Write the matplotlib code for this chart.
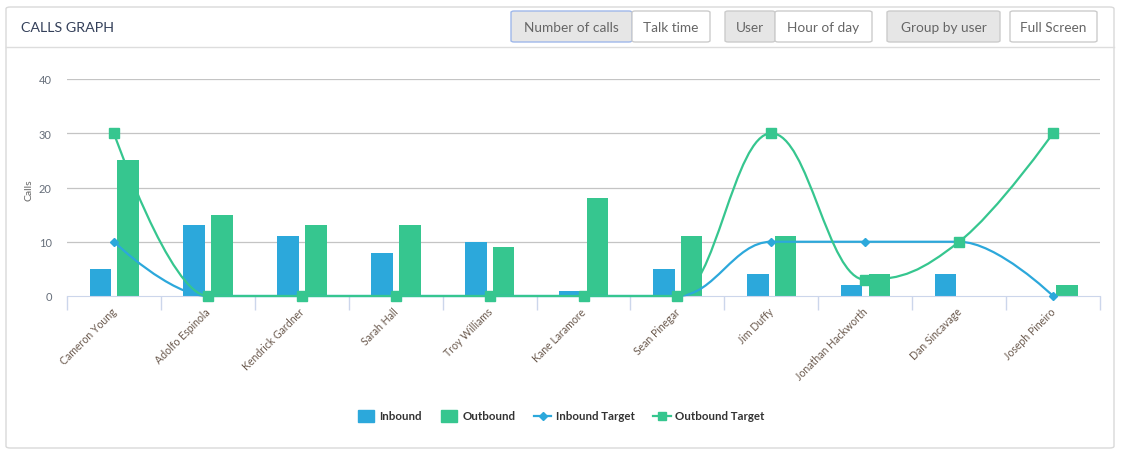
import matplotlib
matplotlib.use('Agg')
import matplotlib.pyplot as plt
from matplotlib.patches import FancyBboxPatch, Rectangle
from matplotlib.path import Path
from matplotlib.patches import PathPatch
from matplotlib.lines import Line2D

plt.rcParams['font.family'] = ['Lato', 'DejaVu Sans']

users = ['Cameron Young', 'Adolfo Espinola', 'Kendrick Gardner', 'Sarah Hall', 'Troy Williams',
         'Kane Laramore', 'Sean Pinegar', 'Jim Duffy', 'Jonathan Hackworth', 'Dan Sincavage',
         'Joseph Pineiro']
inbound = [5, 13, 11, 8, 10, 1, 5, 4, 2, 4, 0]
outbound = [25, 15, 13, 13, 9, 18, 11, 11, 4, 0, 2]
inbound_target = [10, 0, 0, 0, 0, 0, 0, 10, 10, 10, 0]
outbound_target = [30, 0, 0, 0, 0, 0, 0, 30, 3, 10, 30]
y_ticks = [0, 10, 20, 30, 40]

BLUE = '#2ca8db'
GREEN = '#36c68f'
W, H = 1124, 456


def fx(x):
    return x / W


def fy(y):
    return 1 - y / H


def spline_path(xs, ys):
    # highcharts style spline (smoothing 1.5)
    sm = 1.5
    den = sm + 1
    n = len(xs)
    right = [None] * n
    left = [None] * n
    for i in range(1, n - 1):
        px, py = xs[i], ys[i]
        lx, ly = xs[i - 1], ys[i - 1]
        nx, ny = xs[i + 1], ys[i + 1]
        lcx = (sm * px + lx) / den
        lcy = (sm * py + ly) / den
        rcx = (sm * px + nx) / den
        rcy = (sm * py + ny) / den
        corr = 0
        if rcx != lcx:
            corr = (rcy - lcy) * (rcx - px) / (rcx - lcx) + py - rcy
        lcy += corr
        rcy += corr
        if lcy > ly and lcy > py:
            lcy = max(ly, py)
            rcy = 2 * py - lcy
        elif lcy < ly and lcy < py:
            lcy = min(ly, py)
            rcy = 2 * py - lcy
        if rcy > ny and rcy > py:
            rcy = max(ny, py)
            lcy = 2 * py - rcy
        elif rcy < ny and rcy < py:
            rcy = min(ny, py)
            lcy = 2 * py - rcy
        left[i] = (lcx, lcy)
        right[i] = (rcx, rcy)
    verts = [(xs[0], ys[0])]
    codes = [Path.MOVETO]
    for i in range(1, n):
        c1 = right[i - 1] if right[i - 1] else (xs[i - 1], ys[i - 1])
        c2 = left[i] if left[i] else (xs[i], ys[i])
        verts += [c1, c2, (xs[i], ys[i])]
        codes += [Path.CURVE4] * 3
    return Path(verts, codes)


fig = plt.figure(figsize=(W / 100, H / 100), dpi=100)

# panel frame and header
fig.patches.append(FancyBboxPatch((fx(6), fy(449)), fx(1108), 441 / H, boxstyle='round,pad=0,rounding_size=0.004',
                                  transform=fig.transFigure, fc='white', ec='#d9d9d9', lw=1, zorder=-5))
fig.lines.append(Line2D([fx(6), fx(1114)], [fy(48), fy(48)], transform=fig.transFigure, color='#dddddd', lw=1))
fig.text(fx(21), fy(28), 'CALLS GRAPH', fontsize=10.3, color='#34405a', va='center', ha='left')

buttons = [(511, 632, 'Number of calls', '#e6e6e6'), (632, 710, 'Talk time', 'white'),
           (725, 775, 'User', '#e6e6e6'), (775, 872, 'Hour of day', 'white'),
           (887, 1000, 'Group by user', '#e6e6e6'), (1010, 1097, 'Full Screen', 'white')]
for x0, x1, lab, bg in buttons:
    ec = '#9fb8ea' if lab == 'Number of calls' else '#cccccc'
    fig.patches.append(FancyBboxPatch((fx(x0), fy(43)), fx(x1 - x0), 31 / H,
                                      boxstyle='round,pad=0,rounding_size=0.003',
                                      transform=fig.transFigure, fc=bg, ec=ec, lw=1))
    fig.text(fx((x0 + x1) / 2), fy(28), lab, fontsize=9.8, color='#666666', ha='center', va='center')

ax = fig.add_axes([fx(67), fy(297), fx(1033), (297 - 80) / H], zorder=2)
ax.patch.set_alpha(0)
ax.set_xlim(-0.5, len(users) - 0.5)
ax.set_ylim(0, 40)
for s in ['top', 'right', 'left']:
    ax.spines[s].set_visible(False)
ax.spines['bottom'].set_color('#ccd6eb')
ax.set_yticks(y_ticks)
ax.set_yticklabels([str(t) for t in y_ticks], fontsize=8, color='#666e7a')
ax.tick_params(axis='y', length=0, pad=11)
for t in y_ticks[1:]:
    ax.axhline(t, color='#c4c4c4', lw=0.9, zorder=0)

xs = list(range(len(users)))
ax.set_xticks([x - 0.5 for x in xs] + [len(users) - 0.5])
ax.set_xticklabels([])
ax.tick_params(axis='x', length=10, color='#ccd6eb', width=1)
for x, name in zip(xs, users):
    ax.text(x + 0.01, -2.5, name, rotation=45, rotation_mode='anchor', ha='right', va='center',
            fontsize=7.6, color='#6b5a4e', clip_on=False)

bw = 0.23
ax.bar([x - 0.145 for x in xs], inbound, width=bw, color=BLUE, zorder=2)
ax.bar([x + 0.15 for x in xs], outbound, width=bw, color=GREEN, zorder=2)

ax.add_patch(PathPatch(spline_path(xs, inbound_target), fc='none', ec=BLUE, lw=1.6, zorder=3, clip_on=False))
ax.plot(xs, inbound_target, ls='none', marker='D', ms=4.5, color=BLUE, zorder=4, clip_on=False)
ax.add_patch(PathPatch(spline_path(xs, outbound_target), fc='none', ec=GREEN, lw=1.6, zorder=5, clip_on=False))
ax.plot(xs, outbound_target, ls='none', marker='s', ms=6.5, color=GREEN, zorder=6, clip_on=False)

ax.set_ylabel('Calls', fontsize=7.5, color='#666666')
ax.yaxis.set_label_coords(-34 / 1033, 0.49)

# legend
ly = fy(417)
fig.patches.append(Rectangle((fx(358), fy(423)), fx(16), 12 / H, transform=fig.transFigure, color=BLUE))
fig.text(fx(379), ly, 'Inbound', fontsize=8.3, weight='bold', color='#333333', va='center')
fig.patches.append(Rectangle((fx(441), fy(423)), fx(16), 12 / H, transform=fig.transFigure, color=GREEN))
fig.text(fx(463), ly, 'Outbound', fontsize=8.3, weight='bold', color='#333333', va='center')
fig.lines.append(Line2D([fx(534), fx(551)], [ly, ly], transform=fig.transFigure, color=BLUE, lw=1.6))
fig.lines.append(Line2D([fx(542.5)], [ly], transform=fig.transFigure, color=BLUE, marker='D', ms=4.5))
fig.text(fx(556), ly, 'Inbound Target', fontsize=8.3, weight='bold', color='#333333', va='center')
fig.lines.append(Line2D([fx(653), fx(671)], [ly, ly], transform=fig.transFigure, color=GREEN, lw=1.6))
fig.lines.append(Line2D([fx(662)], [ly], transform=fig.transFigure, color=GREEN, marker='s', ms=6))
fig.text(fx(675), ly, 'Outbound Target', fontsize=8.3, weight='bold', color='#333333', va='center')

fig.savefig('out.png', dpi=100)
